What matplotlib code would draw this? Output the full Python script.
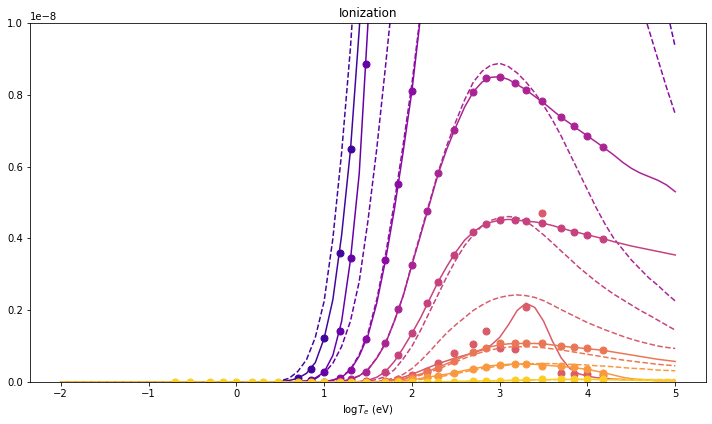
import numpy as np
import matplotlib
matplotlib.use('Agg')
import matplotlib.pyplot as plt

nan = np.nan

# temperaturas dos pontos medidos (eV)
T_data = [0.2, 0.3, 0.5, 0.7, 1, 1.5, 2, 3, 5, 7, 10, 15, 20, 30, 50, 70,
          100, 150, 200, 300, 500, 700, 1000, 1500, 2000, 3000, 5000, 7000,
          10000, 15000]

# grade em log10(Te) usada nas curvas
logT_line = [-2.0, 0.0, 0.4, 0.5, 0.6, 0.7, 0.8, 0.9, 1.0, 1.1, 1.2, 1.3,
             1.4, 1.5, 1.6, 1.7, 1.8, 1.9, 2.0, 2.1, 2.2, 2.3, 2.4, 2.5,
             2.6, 2.7, 2.8, 2.9, 3.0, 3.1, 3.2, 3.3, 3.4, 3.5, 3.6, 3.7,
             3.8, 3.9, 4.0, 4.1, 4.2, 4.3, 4.4, 4.5, 4.6, 4.7, 4.8, 4.9, 5.0]

# taxas em unidades de 1e-8 ; fit = linha cheia, alt = tracejada, pts = pontos
fit_A = [0, 0, 0.0005, 0.002, 0.005, 0.011, 0.025, 0.055, 0.122, 0.23, 0.41,
         0.645, 0.98, 1.4] + [nan] * 35
alt_A = [0, 0, 0.001, 0.004, 0.011, 0.03, 0.063, 0.125, 0.225, 0.40, 0.64,
         0.93, 1.3] + [nan] * 36
pts_A = [nan] * 8 + [0.011, 0.036, 0.122, 0.359, 0.648] + [nan] * 17

fit_B = [0] * 4 + [0.0003, 0.001, 0.004, 0.012, 0.028, 0.075, 0.17, 0.34,
                   0.58, 1.0, 1.5] + [nan] * 34
alt_B = [0] * 4 + [0.0003, 0.001, 0.004, 0.01, 0.025, 0.053, 0.1, 0.17, 0.28,
                   0.45, 0.65, 0.88, 1.12] + [nan] * 30 + [1.04, 0.932]
pts_B = [nan] * 9 + [0.007, 0.028, 0.143, 0.345, 0.884] + [nan] * 16

fit_C = [0] * 7 + [0.0005, 0.002, 0.006, 0.014, 0.034, 0.073, 0.13, 0.22,
                   0.34, 0.48, 0.64, 0.81, 1.02, 1.25] + [nan] * 28
alt_C = [0] * 7 + [0.0005, 0.002, 0.006, 0.015, 0.036, 0.077, 0.137, 0.23,
                   0.355, 0.50, 0.66, 0.83, 1.03, 1.25] + [nan] * 23 + \
        [1.06, 0.98, 0.90, 0.82, 0.746]
pts_C = [nan] * 10 + [0.002, 0.011, 0.034, 0.12, 0.34, 0.551, 0.81] + [nan] * 13

fit_D = [0] * 9 + [0.001, 0.003, 0.008, 0.018, 0.035, 0.067, 0.108, 0.17,
                   0.24, 0.326, 0.41, 0.495, 0.58, 0.65, 0.71, 0.765, 0.808,
                   0.835, 0.848, 0.85, 0.842, 0.828, 0.813, 0.795, 0.777,
                   0.757, 0.737, 0.72, 0.702, 0.685, 0.668, 0.65, 0.632,
                   0.612, 0.595, 0.582, 0.572, 0.562, 0.549, 0.53]
alt_D = [0] * 9 + [0.001, 0.003, 0.008, 0.018, 0.036, 0.068, 0.11, 0.17,
                   0.24, 0.33, 0.415, 0.50, 0.585, 0.66, 0.725, 0.785, 0.835,
                   0.865, 0.882, 0.887, 0.878, 0.86, 0.835, 0.805, 0.77,
                   0.73, 0.685, 0.635, 0.585, 0.535, 0.485, 0.44, 0.40,
                   0.37, 0.34, 0.315, 0.29, 0.27, 0.247, 0.226]
pts_D = [nan] * 11 + [0.003, 0.008, 0.03, 0.108, 0.203, 0.326, 0.476, 0.581,
                      0.703, 0.808, 0.845, 0.848, 0.831, 0.813, 0.781, 0.737,
                      0.713, 0.685, 0.653]

fit_E = [0] * 12 + [0.002, 0.006, 0.014, 0.03, 0.058, 0.095, 0.136, 0.18,
                    0.23, 0.28, 0.323, 0.362, 0.395, 0.418, 0.435, 0.445,
                    0.451, 0.453, 0.451, 0.448, 0.446, 0.442, 0.436, 0.429,
                    0.422, 0.416, 0.41, 0.404, 0.398, 0.391, 0.385, 0.379,
                    0.374, 0.369, 0.364, 0.359, 0.354]
alt_E = [0] * 13 + [0.003, 0.008, 0.016, 0.035, 0.065, 0.10, 0.145, 0.195,
                    0.245, 0.295, 0.34, 0.38, 0.41, 0.435, 0.45, 0.458, 0.461,
                    0.458, 0.448, 0.43, 0.41, 0.388, 0.365, 0.343, 0.32, 0.30,
                    0.28, 0.262, 0.245, 0.23, 0.215, 0.20, 0.187, 0.173,
                    0.159, 0.145]
pts_E = [nan] * 13 + [0.005, 0.03, 0.076, 0.136, 0.221, 0.28, 0.354, 0.418,
                      0.44, 0.451, 0.451, 0.448, 0.443, 0.429, 0.418, 0.41,
                      0.399]

fit_F = [0] * 15 + [0.004, 0.008, 0.014, 0.022, 0.032, 0.042, 0.052, 0.06,
                    0.068, 0.075, 0.082, 0.09, 0.103, 0.125, 0.16, 0.2, 0.22,
                    0.208, 0.17, 0.115, 0.068, 0.038, 0.024, 0.017, 0.013,
                    0.011, 0.009, 0.008, 0.007, 0.006, 0.006, 0.005, 0.005,
                    0.005]
alt_F = [0] * 14 + [0.002, 0.006, 0.012, 0.022, 0.038, 0.06, 0.085, 0.112,
                    0.138, 0.16, 0.18, 0.2, 0.215, 0.228, 0.236, 0.241,
                    0.243, 0.241, 0.236, 0.227, 0.215, 0.202, 0.19, 0.178,
                    0.166, 0.156, 0.146, 0.137, 0.128, 0.12, 0.113, 0.107,
                    0.101, 0.097, 0.094]
pts_F = [nan] * 14 + [0.004, 0.01, 0.02, 0.031, 0.053, 0.081, 0.106, 0.1435,
                      0.095, 0.092, 0.21, 0.47, 0.027, 0.023, 0.023, 0.02]

fit_G = [0] * 15 + [0.003, 0.006, 0.01, 0.016, 0.023, 0.032, 0.042, 0.052,
                    0.062, 0.073, 0.083, 0.092, 0.099, 0.104, 0.107, 0.108,
                    0.108, 0.108, 0.107, 0.104, 0.101, 0.098, 0.096, 0.093,
                    0.091, 0.088, 0.084, 0.08, 0.076, 0.072, 0.068, 0.064,
                    0.061, 0.058]
alt_G = [0] * 16 + [0.004, 0.008, 0.013, 0.02, 0.028, 0.037, 0.047, 0.057,
                    0.067, 0.076, 0.084, 0.09, 0.095, 0.098, 0.099, 0.099,
                    0.098, 0.096, 0.093, 0.09, 0.086, 0.082, 0.078, 0.074,
                    0.07, 0.066, 0.062, 0.059, 0.056, 0.053, 0.05, 0.048,
                    0.046]
pts_G = [nan] * 14 + [0.002, 0.007, 0.015, 0.03, 0.041, 0.059, 0.083, 0.095,
                      0.108, 0.108, 0.108, 0.11, 0.102, 0.098, 0.094, 0.09]

fit_H = [0] * 17 + [0.004, 0.007, 0.011, 0.015, 0.019, 0.023, 0.028, 0.033,
                    0.038, 0.042, 0.046, 0.048, 0.05, 0.051, 0.051, 0.05,
                    0.048, 0.046, 0.044, 0.042, 0.039, 0.036, 0.031, 0.026,
                    0.02, 0.014, 0.01, 0.008, 0.006, 0.005, 0.005, 0.005]
alt_H = [0] * 17 + [0.003, 0.005, 0.008, 0.011, 0.015, 0.019, 0.024, 0.029,
                    0.034, 0.038, 0.042, 0.045, 0.048, 0.05, 0.051, 0.052,
                    0.052, 0.052, 0.051, 0.05, 0.049, 0.048, 0.046, 0.045,
                    0.043, 0.041, 0.039, 0.038, 0.036, 0.034, 0.033, 0.032]
pts_H = [nan] * 15 + [0.003, 0.008, 0.014, 0.0175, 0.027, 0.037, 0.043, 0.048,
                      0.051, 0.051, 0.045, 0.045, 0.042, 0.036, 0.027]

fit_I = [0] * 20 + [0.001, 0.001, 0.002, 0.002, 0.003, 0.003, 0.004, 0.004,
                    0.005, 0.005, 0.006, 0.006, 0.007, 0.007, 0.008, 0.008,
                    0.008, 0.008, 0.008, 0.008, 0.007, 0.007, 0.006, 0.006,
                    0.005, 0.005, 0.004, 0.004, 0.004]
alt_I = [0] * 21 + [0.001, 0.001, 0.002, 0.002, 0.003, 0.003, 0.004, 0.004,
                    0.005, 0.005, 0.006, 0.006, 0.007, 0.007, 0.008, 0.008,
                    0.008, 0.008, 0.008, 0.008, 0.008, 0.008, 0.008, 0.008,
                    0.008, 0.008, 0.008, 0.008]
pts_I = [0] * 18 + [0.001, 0.002, 0.003, 0.004, 0.005, 0.006, 0.007, 0.009,
                    0.01, 0.009, 0.008, 0.008]

fits = [fit_A, fit_B, fit_C, fit_D, fit_E, fit_F, fit_G, fit_H, fit_I]
alts = [alt_A, alt_B, alt_C, alt_D, alt_E, alt_F, alt_G, alt_H, alt_I]
pts = [pts_A, pts_B, pts_C, pts_D, pts_E, pts_F, pts_G, pts_H, pts_I]

escala = 1e-8
# posicoes no mapa de cores plasma para cada estado
niveis_cor = [0.1, 0.19, 0.29, 0.38, 0.48, 0.57, 0.66, 0.76, 0.9]
cores = plt.cm.plasma(niveis_cor)
logT_data = np.log10(T_data)

fig = plt.figure(figsize=(712 / 72, 424 / 72), dpi=72)
ax = fig.add_axes([30 / 712, 41.7 / 424, 676 / 712, 359.6 / 424])

for cor, f, a, p in zip(cores, fits, alts, pts):
    ax.plot(logT_line, np.array(f) * escala, '-', color=cor, lw=1.5)
    ax.plot(logT_line, np.array(a) * escala, '--', color=cor, lw=1.5)
    ax.plot(logT_data, np.array(p) * escala, 'o', color=cor, ms=7)

ax.set_ylim(0, 1e-8)
ax.set_title('Ionization')
ax.set_xlabel(r'log$T_e$ (eV)')

fig.savefig('out.png', dpi=72)
